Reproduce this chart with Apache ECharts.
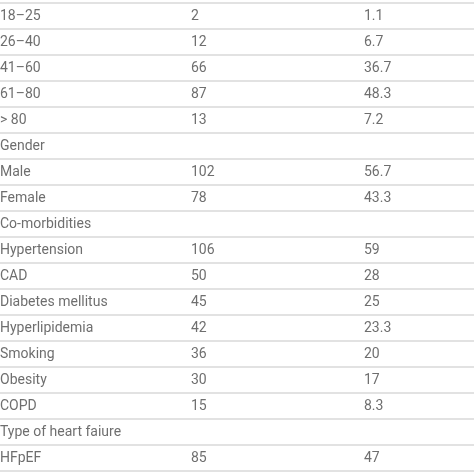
<!DOCTYPE html><html><head><meta charset="utf-8"><script src="https://cdn.jsdelivr.net/npm/echarts@6/dist/echarts.min.js"></script><style>html,body{margin:0;background:#fff}#c{width:474px;height:474px}</style></head><body><div id="c"></div><script>
var labels=["18–25","26–40","41–60","61–80","> 80","Gender","Male","Female","Co-morbidities","Hypertension","CAD","Diabetes mellitus","Hyperlipidemia","Smoking","Obesity","COPD","Type of heart faiure","HFpEF"];
var counts=["2","12","66","87","13","","102","78","","106","50","45","42","36","30","15","","85"];
var percents=["1.1","6.7","36.7","48.3","7.2","","56.7","43.3","","59","28","25","23.3","20","17","8.3","","47"];
var cols=["c0","c1","c2"];
var offs=[-79,-46,-31];
var colsData=[labels,counts,percents];
var series=colsData.map(function(arr,ci){return{type:'scatter',symbolSize:0,silent:true,
data:arr.map(function(t,ri){return{value:[cols[ci],ri],txt:t};}),
label:{show:true,position:'inside',align:'left',offset:[offs[ci],0],color:'#4a4a4a',fontFamily:'Roboto',fontSize:14,
formatter:function(p){return p.data.txt;}}};});
var ch=echarts.init(document.getElementById('c'));
ch.setOption({animation:false,grid:{left:0,right:0,top:3,bottom:3},
xAxis:{type:'category',data:cols,show:false},
yAxis:{type:'category',data:labels.map(function(_,i){return i;}),inverse:true,boundaryGap:true,
axisLine:{show:false},axisTick:{show:false},axisLabel:{show:false},
splitLine:{show:true,lineStyle:{color:'#e2e2e2',width:2}}},
series:series});
</script></body></html>
